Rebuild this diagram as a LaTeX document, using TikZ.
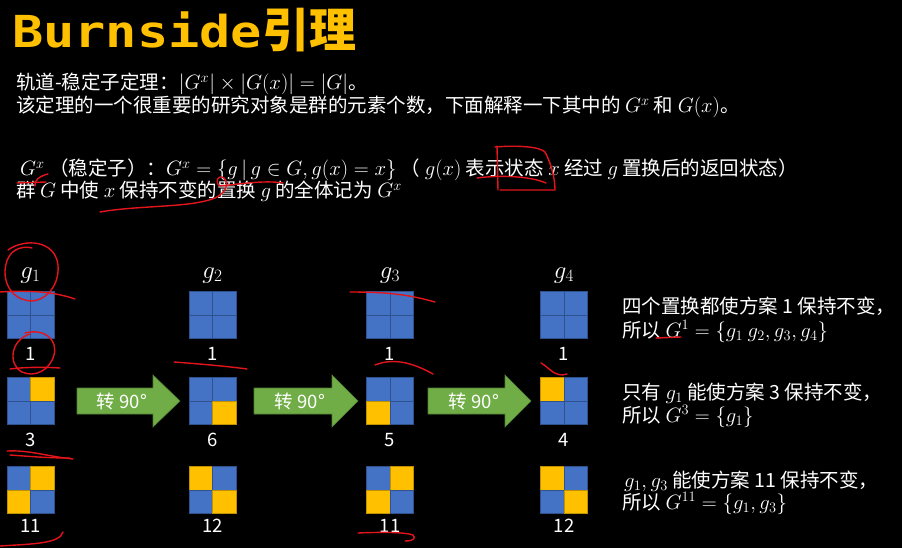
\documentclass[tikz,border=0pt]{standalone}
\usepackage{fontspec}
\setmainfont{Noto Sans CJK SC}
\newfontfamily\titlemono[FakeStretch=1.18]{DejaVu Sans Mono}
\definecolor{ttl}{HTML}{FFC000}
\definecolor{cblue}{HTML}{4472C4}
\definecolor{cblueb}{HTML}{2F528F}
\definecolor{cyel}{HTML}{FFC000}
\definecolor{cyelb}{HTML}{BF9000}
\definecolor{agreen}{HTML}{70AD47}
\definecolor{agreenb}{HTML}{507E32}
\definecolor{ink}{HTML}{E3141B}
\tikzset{
  txt/.style={anchor=base west, inner sep=0pt, text=white, font=\fontsize{19.5}{24}\selectfont},
  lbl/.style={anchor=base, inner sep=0pt, text=white, font=\fontsize{18.5}{22}\selectfont},
  glbl/.style={anchor=base, inner sep=0pt, text=white, font=\fontsize{23}{26}\selectfont},
  arrtxt/.style={anchor=base, inner sep=0pt, text=white, font=\fontsize{18.5}{22}\selectfont},
  B/.style={fill=cblue, draw=cblueb, line width=1pt},
  Y/.style={fill=cyel, draw=cyelb, line width=1pt},
  scrib/.style={draw=ink, line width=1.4pt, line cap=round, line join=round},
  blockarrow/.style={fill=agreen, draw=agreenb, line width=0.6pt},
}
\newcommand{\cellgrid}[5]{%
  \begin{scope}[shift={(#1)}]
    \path[#2] (-23.5,-23.5) rectangle (0,0);
    \path[#3] (0,-23.5) rectangle (23.5,0);
    \path[#4] (-23.5,0) rectangle (0,23.5);
    \path[#5] (0,0) rectangle (23.5,23.5);
  \end{scope}}
\begin{document}
\begin{tikzpicture}[x=1pt,y=-1pt]
\fill[black] (0,0) rectangle (902,548);
\useasboundingbox (0,0) rectangle (902,548);

% title
\node[anchor=base west, inner sep=0pt, text=ttl] (title) at (12,48)
  {{\titlemono\bfseries\fontsize{44}{50}\selectfont Burnside}{\bfseries\fontsize{47}{50}\selectfont 引理}};

% text lines
\node[txt] (l1) at (16,90) {轨道-稳定子定理：$|G^{x}|\times|G(x)|=|G|$。};
\node[txt] (l2) at (16,113) {该定理的一个很重要的研究对象是群的元素个数，下面解释一下其中的 $G^{x}$ 和 $G(x)$。};
\node[txt] (l3) at (20,176) {$G^{x}$ （稳定子）：$G^{x}=\{g\,|\,g\in G, g(x)=x\}$ （ $g(x)$ 表示状态 $x$ 经过 $g$ 置换后的返回状态）};
\node[txt] (l4) at (16,198) {群 $G$ 中使 $x$ 保持不变的置换 $g$ 的全体记为 $G^{x}$};

% g labels
\node[glbl] (g1) at (30.5,278) {$g_1$};
\node[glbl] (g2) at (212.5,278) {$g_2$};
\node[glbl] (g3) at (390,278) {$g_3$};
\node[glbl] (g4) at (564,278) {$g_4$};

% grids row 1
\cellgrid{30.5,315}{B}{B}{B}{B}
\cellgrid{212.5,315}{B}{B}{B}{B}
\cellgrid{390,315}{B}{B}{B}{B}
\cellgrid{564,315}{B}{B}{B}{B}
% row 2
\cellgrid{30.5,401}{B}{Y}{B}{B}
\cellgrid{212.5,401}{B}{B}{B}{Y}
\cellgrid{390,401}{B}{B}{Y}{B}
\cellgrid{564,401}{Y}{B}{B}{B}
% row 3
\cellgrid{30.5,490}{B}{Y}{Y}{B}
\cellgrid{212.5,490}{Y}{B}{B}{Y}
\cellgrid{390,490}{B}{Y}{Y}{B}
\cellgrid{564,490}{Y}{B}{B}{Y}

% number labels
\node[lbl] (n11) at (30.5,360) {1};
\node[lbl] (n12) at (212.5,360) {1};
\node[lbl] (n13) at (390,360) {1};
\node[lbl] (n14) at (564,360) {1};
\node[lbl] (n21) at (30.5,446) {3};
\node[lbl] (n22) at (212.5,446) {6};
\node[lbl] (n23) at (390,446) {5};
\node[lbl] (n24) at (564,446) {4};
\node[lbl] (n31) at (30.5,532) {11};
\node[lbl] (n32) at (212.5,532) {12};
\node[lbl] (n33) at (390,532) {11};
\node[lbl] (n34) at (564,532) {12};

% block arrows
\path[blockarrow] (77,388) -- (153,388) -- (153,375) -- (180,401) -- (153,427) -- (153,414) -- (77,414) -- cycle;
\path[blockarrow] (254,388) -- (332,388) -- (332,375) -- (358,401) -- (332,427) -- (332,414) -- (254,414) -- cycle;
\path[blockarrow] (428,388) -- (505,388) -- (505,375) -- (531,401) -- (505,427) -- (505,414) -- (428,414) -- cycle;
\node[arrtxt] (a1) at (122,408) {转 90°};
\node[arrtxt] (a2) at (300,408) {转 90°};
\node[arrtxt] (a3) at (474,408) {转 90°};

% right texts
\node[txt] (r1) at (622,313) {四个置换都使方案 1 保持不变，};
\node[txt] (r2) at (622,337) {所以 $G^{1}=\{g_1\ g_2,g_3,g_4\}$};
\node[txt] (r3) at (622,399) {只有 $g_1$ 能使方案 3 保持不变，};
\node[txt] (r4) at (622,422) {所以 $G^{3}=\{g_1\}$};
\node[txt] (r5) at (624,487) {$g_1,g_3$ 能使方案 11 保持不变，};
\node[txt] (r6) at (622,509) {所以 $G^{11}=\{g_1,g_3\}$};

% red handwritten marks
\draw[scrib] (8,250) .. controls (25,238) and (55,240) .. (58,265) .. controls (60,290) and (40,305) .. (25,300) .. controls (5,295) and (0,270) .. (10,255) .. controls (15,248) and (25,246) .. (32,248);
\draw[scrib] (0,292) .. controls (30,290) and (55,292) .. (75,299);
\draw[scrib] (25,333) .. controls (45,328) and (58,340) .. (54,355) .. controls (50,370) and (35,378) .. (22,372) .. controls (8,365) and (10,340) .. (30,334);
\draw[scrib] (10,369) .. controls (25,367) and (45,367) .. (60,368);
\draw[scrib] (174,362) .. controls (200,364) and (225,366) .. (247,369);
\draw[scrib] (350,292) .. controls (390,292) and (410,295) .. (435,302);
\draw[scrib] (375,365) .. controls (395,357) and (415,364) .. (433,374);
\draw[scrib] (541,363) .. controls (550,368) and (555,378) .. (567,374);
\draw[scrib] (7,451) .. controls (30,450) and (45,456) .. (73,459);
\draw[scrib] (10,455) .. controls (25,456) and (45,458) .. (70,458);
\draw[scrib] (0,546) .. controls (30,544) and (60,544) .. (63,532);
\draw[scrib] (358,533) .. controls (380,532) and (405,532) .. (413,535) .. controls (416,538) and (414,541) .. (405,541);
\draw[scrib] (656,338) -- (681,337);
\draw[scrib] (48,174) .. controls (40,176) and (34,180) .. (35,186);
\draw[scrib] (17,183) -- (46,182);
\draw[scrib] (100,212) .. controls (140,205) and (190,208) .. (215,198) .. controls (225,193) and (230,185) .. (224,178) .. controls (218,174) and (214,182) .. (220,186) .. controls (240,184) and (265,180) .. (283,183);
\draw[scrib] (497,146) -- (498,190);
\draw[scrib] (495,147) .. controls (520,145) and (540,147) .. (545,152) .. controls (552,165) and (555,180) .. (555,190) -- (500,190);
\draw[scrib] (477,178) .. controls (500,175) and (530,176) .. (546,183);
\end{tikzpicture}
\end{document}
